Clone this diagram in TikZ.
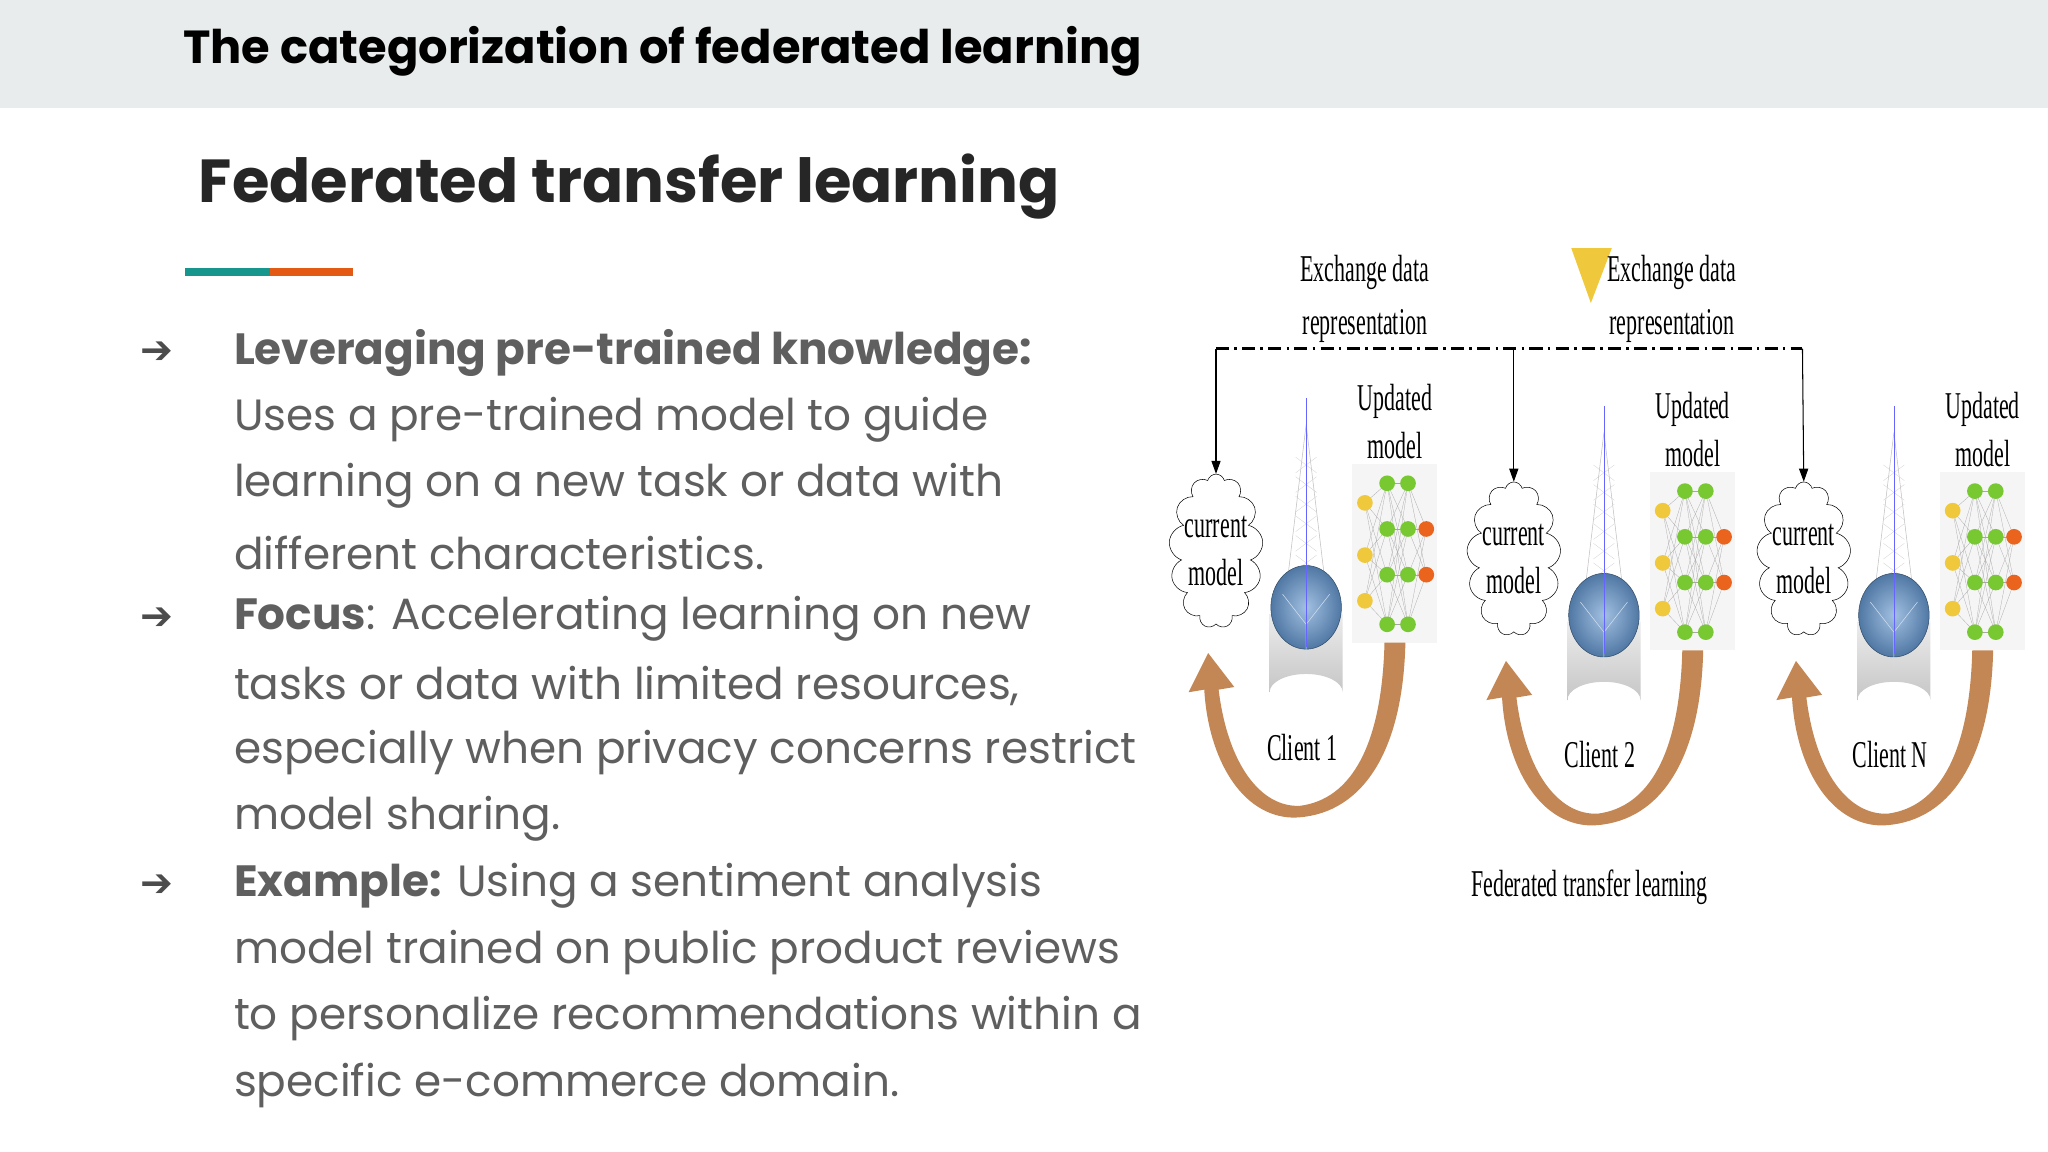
\documentclass[tikz,border=0pt]{standalone}
\usepackage{fontspec}
\setmainfont{Poppins}
\newfontfamily\serif{Liberation Serif}
\newfontfamily\arr{DejaVu Sans}
\usetikzlibrary{shapes.symbols,arrows.meta}
\definecolor{bar}{RGB}{233,236,236}
\definecolor{teal}{RGB}{22,150,140}
\definecolor{orng}{RGB}{226,90,20}
\definecolor{txt}{RGB}{95,95,95}
\definecolor{brn}{RGB}{195,135,85}
\definecolor{ngreen}{RGB}{120,200,50}
\definecolor{nyel}{RGB}{240,200,60}
\definecolor{norg}{RGB}{235,100,30}
\definecolor{dish}{RGB}{100,150,205}
\tikzset{
 body/.style={anchor=west,text=txt,font=\fontsize{33.5}{33.5}\selectfont,inner sep=0},
 bul/.style={anchor=center,text=txt!80!black,font=\arr\fontsize{30}{30}\selectfont,inner sep=0},
 dlab/.style={font=\serif\fontsize{29}{29}\selectfont,xscale=0.58,inner sep=0,align=center},
 neu/.style={circle,inner sep=0,minimum size=12pt}
}
\newcommand\clientgrp[3]{%
\begin{scope}[shift={(#1,#2)}]
 \shade[top color=gray!15,bottom color=gray!45] (972,470) -- (972,530) arc[start angle=180,end angle=360,x radius=28,y radius=14] -- (1028,470) -- cycle;
 \draw[gray!50,thin] (1000,325) -- (985,450) (1000,325) -- (1015,450);
 \foreach \yy in {350,365,...,440}{\draw[gray!40,very thin] (992,\yy) -- (1008,\yy+12) (1008,\yy) -- (992,\yy+12);}
 \shade[inner color=dish!60,outer color=dish!80!black,draw=dish!50!black] (1000,465) ellipse (27 and 32);
 \draw[white!70!dish] (1000,505) -- (1000,478) -- (982,455) (1000,478) -- (1018,455);
 \draw[blue!60,thin] (1000,305) -- (1000,495);
 \node[dlab] (cl#3) at (997,572) {Client #3};
 \node[cloud,draw,cloud puffs=13,aspect=0.6,minimum width=72,minimum height=118,inner sep=0] (cm#3) at (931,422) {};
 \node[dlab] at (931,422) {current\\[8pt]model};
 \node[dlab] (um#3) at (1068,323) {Updated\\[8pt]model};
 \fill[gray!8] (1035,355) rectangle (1100,492);
 \foreach \a in {385,425,460}{\foreach \b in {370,405,440,478}{\draw[gray!70,very thin] (1045,\a) -- (1062,\b);}}
 \foreach \a in {370,405,440,478}{\foreach \b in {370,405,440,478}{\draw[gray!70,very thin] (1062,\a) -- (1078,\b);}}
 \foreach \a in {370,405,440,478}{\foreach \b in {405,440}{\draw[gray!70,very thin] (1078,\a) -- (1092,\b);}}
 \foreach \yy in {385,425,460}{\node[neu,fill=nyel] at (1045,\yy) {};}
 \foreach \yy in {370,405,440,478}{\node[neu,fill=ngreen] at (1062,\yy) {}; \node[neu,fill=ngreen] at (1078,\yy) {};}
 \foreach \yy in {405,440}{\node[neu,fill=norg] at (1092,\yy) {};}
 \fill[brn] (1060,492) -- (1076,492) .. controls (1074,580) and (1040,625) .. (990,626)
   .. controls (950,625) and (925,580) .. (922,528) -- (910,530) -- (925,500) -- (945,526) -- (933,528)
   .. controls (940,585) and (965,618) .. (995,617) .. controls (1035,612) and (1058,570) .. (1060,492) -- cycle;
\end{scope}}
\begin{document}
\begin{tikzpicture}[x=1pt,y=-1pt]
\useasboundingbox (0,0) rectangle (1568,882);
\fill[white] (0,0) rectangle (1568,882);
\fill[bar] (0,0) rectangle (1568,83);
\node[anchor=west,inner sep=0,font=\fontsize{35.5}{35.5}\selectfont\bfseries] (title) at (140,39) {The categorization of federated learning};
\node[anchor=west,inner sep=0,font=\fontsize{46.5}{46.5}\selectfont\bfseries,text=black!85] (head) at (152,143) {Federated transfer learning};
\draw[teal,line width=6pt] (142,208) -- (207,208);
\draw[orng,line width=6pt] (207,208) -- (270,208);
\foreach \yy in {270,474,678}{\node[bul] at (120,\yy) {➔};}
\node[body] at (179,270) {\bfseries Leveraging pre-trained knowledge:};
\node[body] at (179,321) {Uses a pre-trained model to guide};
\node[body] at (179,372) {learning on a new task or data with};
\node[body] at (179,423) {different characteristics.};
\node[body] at (179,474) {\textbf{Focus}: Accelerating learning on new};
\node[body] at (179,525) {tasks or data with limited resources,};
\node[body] at (179,576) {especially when privacy concerns restrict};
\node[body] at (179,627) {model sharing.};
\node[body] at (179,678) {\textbf{Example:} Using a sentiment analysis};
\node[body] at (179,729) {model trained on public product reviews};
\node[body] at (179,780) {to personalize recommendations within a};
\node[body] at (179,831) {specific e-commerce domain.};
\clientgrp{0}{0}{1}
\clientgrp{228}{6}{2}
\clientgrp{450}{6}{N}
\fill[nyel] (1203,190) -- (1234,190) -- (1218,232) -- cycle;
\node[dlab] (ex1) at (1045,229) {Exchange data\\[12pt]representation};
\node[dlab] (ex2) at (1280,229) {Exchange data\\[12pt]representation};
\coordinate (l1) at (931,267); \coordinate (l2) at (1159,267); \coordinate (l3) at (1380,267);
\draw[line width=2.5pt,dash pattern=on 10pt off 4pt on 2pt off 4pt] (l1) -- (l3);
\draw[-{Triangle[length=10pt,width=7pt]},thick] (l1) -- (cm1.north);
\draw[-{Triangle[length=10pt,width=7pt]},thick] (l2) -- (cm2.north);
\draw[-{Triangle[length=10pt,width=7pt]},thick] (l3) -- (cmN.north);
\node[dlab] (cap) at (1217,679) {Federated transfer learning};
\end{tikzpicture}
\end{document}
